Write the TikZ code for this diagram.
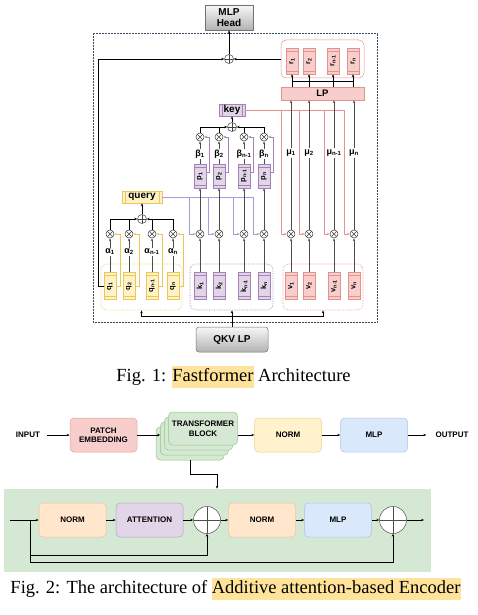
\documentclass[tikz,border=0pt]{standalone}
\usepackage{fontspec}
\usepackage{graphicx}
\setmainfont{Liberation Serif}
\setsansfont{Liberation Sans}
\usetikzlibrary{positioning,arrows.meta,calc}

\definecolor{hlyellow}{HTML}{FFE39A}
\definecolor{qfill}{HTML}{FFF2C4}
\definecolor{qline}{HTML}{EBC75A}
\definecolor{kfill}{HTML}{E1D5E7}
\definecolor{kline}{HTML}{A680B8}
\definecolor{vfill}{HTML}{F8CECC}
\definecolor{vline}{HTML}{E3938E}
\definecolor{qryline}{HTML}{A89BDD}
\definecolor{gfill}{HTML}{D5E8D4}
\definecolor{gline}{HTML}{97C487}
\definecolor{bfill}{HTML}{DAE8FC}
\definecolor{bline}{HTML}{A9C4EB}
\definecolor{ofill}{HTML}{FFE6CC}
\definecolor{oline}{HTML}{F0C690}
\definecolor{yfill}{HTML}{FFF2CC}
\definecolor{yline}{HTML}{E8D08C}
\definecolor{pfill}{HTML}{F8CECC}
\definecolor{pline}{HTML}{E6A09C}
\definecolor{afill}{HTML}{E1D5E7}
\definecolor{aline}{HTML}{B9A0C8}
\definecolor{encfill}{HTML}{D5E8D4}
\definecolor{frameline}{HTML}{34495E}

\newcommand{\hlbox}[1]{{\setlength{\fboxsep}{0pt}\colorbox{hlyellow}{\strut #1}}}

\begin{document}
\begin{tikzpicture}[x=1pt, y=-1pt, >={Stealth[length=3pt,width=2.4pt]}, line width=0.5pt]

    \tikzset{%
    cell/.style 2 args={
        draw=#1, fill=#2, minimum width=12, minimum height=27, inner sep=0,
        font=\sffamily\bfseries\fontsize{7.5}{8}\selectfont,
        path picture={\draw[#1] ([yshift=-3]path picture bounding box.north west) -- ([yshift=-3]path picture bounding box.north east)
            ([yshift=3]path picture bounding box.south west) -- ([yshift=3]path picture bounding box.south east);}
        },
    tag/.style 2 args={
        draw=#1, fill=#2, minimum height=12, inner sep=0,
        font=\sffamily\bfseries\fontsize{10}{11}\selectfont,
        path picture={\draw[#1] ([xshift=3]path picture bounding box.north west) -- ([xshift=3]path picture bounding box.south west)
            ([xshift=-3]path picture bounding box.north east) -- ([xshift=-3]path picture bounding box.south east);}
        },
    grp/.style={draw=#1, densely dotted, line width=0.65, rounded corners=6, minimum height=46},
    lab/.style={font=\sffamily\bfseries\fontsize{9}{10}\selectfont, inner sep=1},
    mul/.style={circle, draw=black!75, fill=white, minimum size=8, inner sep=0,
        path picture={\draw[black!75] (path picture bounding box.north west) -- (path picture bounding box.south east)
            (path picture bounding box.north east) -- (path picture bounding box.south west);}},
    add/.style={circle, draw=black!75, fill=white, minimum size=9, inner sep=0,
        path picture={\draw[black!75] (path picture bounding box.north) -- (path picture bounding box.south)
            (path picture bounding box.west) -- (path picture bounding box.east);}},
    flow/.style={draw=black!70, line width=0.8},
    grey box/.style={draw=black!55, top color=black!3, bottom color=black!30,
        font=\sffamily\bfseries\fontsize{10}{11}\selectfont, align=center, inner sep=1},
    blk/.style 2 args={draw=#1, fill=#2, rounded corners=4, minimum width=67, minimum height=34,
        align=center, font=\sffamily\bfseries\fontsize{8}{9.5}\selectfont},
    sum/.style={circle, draw=black!70, fill=white, minimum size=27, inner sep=0,
        path picture={\draw[black!70] (path picture bounding box.north) -- (path picture bounding box.south)
            (path picture bounding box.west) -- (path picture bounding box.east);}},
    plain/.style={font=\sffamily\bfseries\fontsize{8}{9}\selectfont, inner sep=1},
    caption/.style={font=\fontsize{18.5}{22}\selectfont, inner sep=0},
    }

    \useasboundingbox (0,0) rectangle (477,615);

    % Outer frame and heads
    \node[draw=frameline, densely dotted, minimum width=284, minimum height=289, inner sep=0] (frame) at (235,177.5) {};
    \node[grey box, minimum width=48, minimum height=25] (head) at (229,17.5) {MLP\\Head};
    \node[grey box, rounded corners=3, minimum width=72, minimum height=25] (qkv) at (232,339.5) {QKV LP};
    \node[add] (top) at (229,59) {};

    % Groups round q, k, v
    \node[grp=qline, minimum width=81] (qgroup) at (141.5,287) {};
    \node[grp=kline, minimum width=83] (kgroup) at (231.5,287) {};
    \node[grp=vline, minimum width=80] (vgroup) at (323,287) {};

    % r outputs and LP
    \node[draw=vline, rounded corners=5, minimum width=83, minimum height=38] (rgroup) at (322.5,59) {};
    \node[draw=vline, fill=vfill, minimum width=83, minimum height=13, inner sep=0,
        font=\sffamily\bfseries\fontsize{9.5}{10}\selectfont] (LP) at (322.5,93.5) {LP};
    \foreach \x/\s [count=\i] in {292/1,309/2,333/{n-1},353/n}
    \node[cell={vline}{vfill}, minimum height=26] (r\i) at (\x,61) {\rotatebox{90}{r\textsubscript{\s}}};

    % Query side
    \node[tag={qline}{qfill}, minimum width=40] (query) at (142,197) {query};
    \node[add] (qsum) at (142,219) {};
    \foreach \x/\s [count=\i] in {110/1,129/2,152/{n-1},173/n} {
    \node[cell={qline}{qfill}] (q\i) at (\x,286) {\rotatebox{90}{q\textsubscript{\s}}};
    \node[mul] (qm\i) at (\x,234) {};
    \node[lab] (a\i) at (\x,252) {α\textsubscript{\s}};
    }

    % Key side
    \node[tag={kline}{kfill}, minimum width=26] (key) at (232,110) {key};
    \node[add] (ksum) at (232,127) {};
    \foreach \x/\s [count=\i] in {200/1,219/2,244/{n-1},264/n} {
    \node[cell={kline}{kfill}] (k\i) at (\x,286) {\rotatebox{90}{k\textsubscript{\s}}};
    \node[mul] (km\i) at (\x,234) {};
    \node[cell={kline}{kfill}, minimum height=24] (p\i) at (\x,176) {\rotatebox{90}{p\textsubscript{\s}}};
    \node[lab] (b\i) at (\x,154) {β\textsubscript{\s}};
    \node[mul] (bm\i) at (\x,137) {};
    }

    % Value side
    \foreach \x/\s [count=\i] in {291/1,309/2,334/{n-1},354/n} {
    \node[cell={vline}{vfill}] (v\i) at (\x,286) {\rotatebox{90}{v\textsubscript{\s}}};
    \node[mul] (vm\i) at (\x,234) {};
    \node[lab] (m\i) at (\x,153) {μ\textsubscript{\s}};
    }

    % Query broadcast and key broadcast
    \foreach \i in {1,...,4} {
    \draw[qryline,->] (query.east) -| ([xshift=-7]km\i.west) -- (km\i.west);
    \draw[vline,->] (key.east) -| ([xshift=-6]vm\i.west) -- (vm\i.west);
    }

    % Vertical flows
    \foreach \i in {1,...,4} {
    \draw[flow] (q\i.north) -- (a\i.south);
    \draw[flow,->] (a\i.north) -- (qm\i.south);
    \draw[qline,->] (q\i.east) -- ++(4,0) |- (qm\i.east);
    \draw[flow,->] (k\i.north) -- (km\i.south);
    \draw[flow,->] (km\i.north) -- (p\i.south);
    \draw[flow] (p\i.north) -- (b\i.south);
    \draw[flow,->] (b\i.north) -- (bm\i.south);
    \draw[kline,->] ([yshift=4]p\i.east) -- ++(3,0) |- (bm\i.east);
    \draw[flow,->] (v\i.north) -- (vm\i.south);
    \draw[flow] (vm\i.north) -- (m\i.south);
    \draw[flow,->] (m\i.north) -- (m\i.north |- LP.south);
    \draw[->] (LP.north -| r\i) -- (r\i.south);
    }
    \draw ($(LP.north -| r1)+(0,-5)$) -- ($(LP.north -| r4)+(0,-5)$);

    % Sums
    \draw[->] (qm1.north) |- (qsum.west);
    \draw[->] (qm4.north) |- (qsum.east);
    \draw (qm2.north) -- (qm2.north |- qsum);
    \draw (qm3.north) -- (qm3.north |- qsum);
    \draw[->] (qsum) -- (query);
    \draw[->] (bm1.north) |- (ksum.west);
    \draw[->] (bm4.north) |- (ksum.east);
    \draw (bm2.north) -- (bm2.north |- ksum);
    \draw (bm3.north) -- (bm3.north |- ksum);
    \draw[->] (ksum) -- (key);

    % Output path
    \draw[->] (rgroup.west) -- (top.east);
    \draw[->] (q1.west) -- ++(-6,0) |- (top.west);
    \draw[->] (top.north) -- (head.south);

    % QKV LP feeds
    \coordinate (bus) at (232,316);
    \draw[->] (qkv.north) -- (qkv.north |- kgroup.south);
    \draw[->] (bus) -| (qgroup.south);
    \draw[->] (bus) -| (vgroup.south);

    \node[caption] (cap1) at (233.5,377) {Fig. 1: \hlbox{Fastformer} Architecture};

    % Encoder pipeline
    \node[plain] (input) at (28,435) {INPUT};
    \node[blk={pline}{pfill}] (patch) at (103.5,435) {PATCH\\EMBEDDING};
    \foreach \k in {3,2,1}
    \node[blk={gline}{gfill}, minimum width=68, minimum height=33] (tb\k) at ($(203,428.5)+(-4.3*\k,5*\k)$) {};
    \node[blk={gline}{gfill}, minimum width=68, minimum height=33] (tb) at (203,428.5) {TRANSFORMER\\BLOCK};
    \node[blk={yline}{yfill}] (norm) at (288,435) {NORM};
    \node[blk={bline}{bfill}] (mlp) at (374,435) {MLP};
    \node[plain] (output) at (452,435) {OUTPUT};
    \draw[->] (input.east) ++(6,0) -- (patch.west);
    \draw[->] (patch.east) -- (patch.east -| tb2.west);
    \draw[->] (norm.west -| tb.east) -- (norm.west);
    \draw[->] (norm) -- (mlp);
    \draw[->] (mlp.east) -- ([xshift=-8]output.west);

    % Encoder block detail
    \node[fill=encfill, draw=gline!40, minimum width=426, minimum height=82, inner sep=0] (enc) at (217,530) {};
    \draw[->] (tb3.south) -- ++(0,14) -| (enc.north);
    \coordinate (in) at (10,520);
    \coordinate (br) at (30,520);
    \coordinate (out) at (424,520);
    \node[blk={oline}{ofill}] (n1) at (72.5,520) {NORM};
    \node[blk={aline}{afill}] (att) at (149.5,520) {ATTENTION};
    \node[sum] (s1) at (207,520) {};
    \node[blk={oline}{ofill}] (n2) at (262,520) {NORM};
    \node[blk={bline}{bfill}] (m2) at (338,520) {MLP};
    \node[sum] (s2) at (393,520) {};
    \draw[->] (in) -- (n1);
    \draw[->] (n1) -- (att);
    \draw[->] (att) -- (s1);
    \draw[->] (s1) -- (n2);
    \draw[->] (n2) -- (m2);
    \draw[->] (m2) -- (s2);
    \draw[->] (s2) -- (out);
    \draw[->] (br) -- ++(0,35) -| (s1.south);
    \draw[->] (br) -- ++(0,42) -| (s2.south);

    \node[caption] (cap2) at (235.5,589) {Fig. 2: The architecture of \hlbox{Additive attention-based Encoder}};

\end{tikzpicture}
\end{document}
